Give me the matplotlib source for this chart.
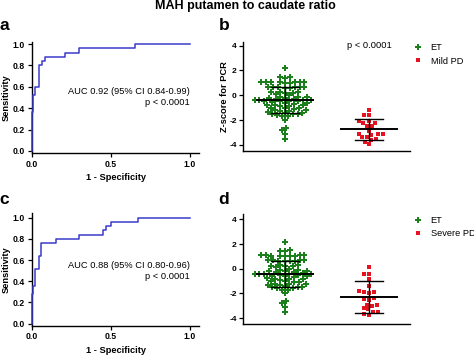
import numpy as np
import matplotlib
matplotlib.use("Agg")
import matplotlib.pyplot as plt
from matplotlib.lines import Line2D

plt.rcParams['font.family'] = ['Liberation Sans', 'DejaVu Sans']

# ---------------- data ----------------
title = "MAH putamen to caudate ratio"

# ROC curve vertices (1 - specificity, sensitivity)
roc_a_fpr = [0, 0, 0.008, 0.008, 0.02, 0.02, 0.045, 0.045, 0.065, 0.065, 0.085, 0.085,
             0.21, 0.21, 0.30, 0.30, 0.65, 0.65, 1.0]
roc_a_tpr = [0, 0.36, 0.36, 0.52, 0.52, 0.60, 0.60, 0.80, 0.80, 0.84, 0.84, 0.88,
             0.88, 0.92, 0.92, 0.96, 0.96, 1.0, 1.0]
roc_c_fpr = [0, 0, 0.008, 0.008, 0.02, 0.02, 0.045, 0.045, 0.055, 0.055, 0.15, 0.15,
             0.30, 0.30, 0.45, 0.45, 0.47, 0.47, 0.50, 0.50, 0.67, 0.67, 1.0]
roc_c_tpr = [0, 0.28, 0.28, 0.36, 0.36, 0.52, 0.52, 0.64, 0.64, 0.76, 0.76, 0.80,
             0.80, 0.84, 0.84, 0.88, 0.88, 0.92, 0.92, 0.96, 0.96, 1.0, 1.0]
auc_a_text = ["AUC 0.92 (95% CI 0.84-0.99)", "p < 0.0001"]
auc_c_text = ["AUC 0.88 (95% CI 0.80-0.96)", "p < 0.0001"]

groups_b = ["ET", "Mild PD"]
groups_d = ["ET", "Severe PD"]

et_z = [2.2, 1.5, 1.45, 1.4, 1.1, 1.1, 1.05, 1.05, 1.0, 1.1, 1.0, 1.05, 1.1,
        0.7, 0.7, 0.65, 0.6, 0.7, 0.6, 0.65, 0.7, 0.3, 0.25, 0.2, 0.3, 0.2,
        0.1, 0.0, -0.1, -0.1, -0.2, -0.15, -0.2, -0.3, -0.3, -0.35, -0.4, -0.4,
        -0.45, -0.5, -0.5, -0.4, -0.45, -0.55, -0.6, -0.6, -0.7, -0.75, -0.8,
        -0.8, -0.85, -0.9, -1.0, -1.0, -1.05, -1.1, -1.2, -1.2, -1.25, -1.3,
        -1.35, -1.4, -1.45, -1.5, -1.5, -1.55, -1.6, -1.7, -1.7, -2.0, -2.6,
        -2.8, -3.1, -3.5]
mild_pd_z = [-1.2, -1.6, -1.6, -2.05, -2.1, -2.2, -2.2, -2.5, -2.5, -2.85, -3.1,
             -3.1, -3.15, -3.2, -3.4, -3.4, -3.5, -3.6, -3.75, -3.95]
severe_pd_z = [0.1, -0.4, -0.45, -0.85, -1.4, -1.8, -1.85, -1.9, -1.95, -2.4, -2.45,
               -2.5, -2.9, -2.95, -3.0, -3.2, -3.3, -3.5, -3.5, -3.7, -3.75]

# summary statistics (mean, SD)
et_mean, et_sd = -0.4, 1.05
mild_mean, mild_sd = -2.75, 0.82
severe_mean, severe_sd = -2.3, 1.3
p_text_b = "p < 0.0001"

# ---------------- styling ----------------
W, H = 474, 357
BLUE = "#3a3acb"
GREEN = "#1b801b"
RED = "#e5121f"

fig = plt.figure(figsize=(W / 100, H / 100), dpi=100)


def axpx(l, t, r, b):
    return fig.add_axes([l / W, 1 - b / H, (r - l) / W, (b - t) / H])


def style(ax, labelsize=6.2, pad=2):
    for s in ["top", "right"]:
        ax.spines[s].set_visible(False)
    for s in ["left", "bottom"]:
        ax.spines[s].set_linewidth(1.0)
    ax.tick_params(direction="out", length=3, width=0.9, labelsize=labelsize, pad=pad)
    for lab in ax.get_xticklabels() + ax.get_yticklabels():
        lab.set_fontweight("bold")


def roc_panel(ax, fpr, tpr, ylim):
    ax.plot(fpr, tpr, color=BLUE, lw=1.1, clip_on=False, zorder=5)
    ax.set_xlim(0, 1.057)
    ax.set_ylim(*ylim)
    ax.set_xticks([0, 0.5, 1.0])
    ax.set_xticklabels(["0.0", "0.5", "1.0"])
    ax.set_yticks([0, 0.2, 0.4, 0.6, 0.8, 1.0])
    ax.set_yticklabels(["0.0", "0.2", "0.4", "0.6", "0.8", "1.0"])
    style(ax)
    ax.set_xlabel("1 - Specificity", fontsize=6.7, fontweight="bold")
    ax.set_ylabel("Sensitivity", fontsize=6.7, fontweight="bold")
    ax.xaxis.label.set_va("center")
    ax.yaxis.label.set_va("center")
    ax.xaxis.set_label_coords(0.5, -0.225)
    ax.yaxis.set_label_coords(-0.155, 0.5)
    return ax


def swarm_offsets(vals, ypx_per_unit, diam):
    vals = np.asarray(vals, dtype=float)
    order = np.argsort(vals)
    placed = []
    offs = np.zeros(len(vals))
    for i in order:
        y = vals[i] * ypx_per_unit
        cands = [0.0]
        for (px, py) in placed:
            dy = abs(py - y)
            if dy < diam:
                dx = np.sqrt(diam ** 2 - dy ** 2)
                cands += [px + dx, px - dx]
        cands = sorted(cands, key=lambda c: (abs(c), c))
        for c in cands:
            ok = True
            for (px, py) in placed:
                if (px - c) ** 2 + (py - y) ** 2 < diam ** 2 - 1e-6:
                    ok = False
                    break
            if ok:
                offs[i] = c
                placed.append((c, y))
                break
    return offs


def scatter_panel(ax, data_list, colors, markers, msizes, stats, ylim, px_x, px_y):
    ax.set_xlim(0.5, 2.49)
    ax.set_ylim(*ylim)
    for k, (vals, col, mk, ms, (m, sd)) in enumerate(zip(data_list, colors, markers, msizes, stats)):
        pos = k + 1
        offs = swarm_offsets(vals, px_y, 4.9) / px_x
        ax.plot(pos + offs, vals, linestyle="none", marker=mk, color=col,
                markersize=ms, markeredgewidth=0, zorder=3)
        ax.plot([pos - 0.33, pos + 0.33], [m, m], color="black", lw=1.4, zorder=4)
        ax.plot([pos, pos], [m - sd, m + sd], color="black", lw=1.0, zorder=4)
        for yy in (m - sd, m + sd):
            ax.plot([pos - 0.167, pos + 0.167], [yy, yy], color="black", lw=1.0, zorder=4)
    ax.set_yticks([-4, -2, 0, 2, 4])
    ax.set_yticklabels(["-4", "-2", "0", "2", "4"])
    ax.set_xticks([])
    style(ax, labelsize=6.0, pad=1.5)


# Panel a
ax_a = axpx(32, 42, 199, 153)
roc_panel(ax_a, roc_a_fpr, roc_a_tpr, (-0.019, 1.019))
ax_a.text(1.0, 0.56, auc_a_text[0], ha="right", va="center", fontsize=6.7)
ax_a.text(1.0, 0.457, auc_a_text[1], ha="right", va="center", fontsize=6.7)

# Panel c
ax_c = axpx(32, 213, 199, 325.5)
roc_panel(ax_c, roc_c_fpr, roc_c_tpr, (-0.017, 1.044))
ax_c.text(1.0, 0.55, auc_c_text[0], ha="right", va="center", fontsize=6.7)
ax_c.text(1.0, 0.447, auc_c_text[1], ha="right", va="center", fontsize=6.7)

# Panel b
ax_b = axpx(243, 41.7, 410, 150.7)
scatter_panel(ax_b, [et_z, mild_pd_z], [GREEN, RED], ["P", "s"], [4.0, 3.4],
              [(et_mean, et_sd), (mild_mean, mild_sd)], (-4.47, 4.32), 84, 12.4)
ax_b.set_ylabel("Z-score for PCR", fontsize=6.7, fontweight="bold")
ax_b.yaxis.label.set_va("center")
ax_b.yaxis.set_label_coords(-0.108, 0.5)
ax_b.text(2.0, 4.0, p_text_b, ha="center", va="center", fontsize=6.7)

# Panel d
ax_d = axpx(243, 214, 410, 323.7)
scatter_panel(ax_d, [et_z, severe_pd_z], [GREEN, RED], ["P", "s"], [4.0, 3.4],
              [(et_mean, et_sd), (severe_mean, severe_sd)], (-4.45, 4.43), 84, 12.35)


def legend(labels, top_px):
    handles = [Line2D([], [], linestyle="none", marker="P", color=GREEN, markersize=4.0,
                      markeredgewidth=0),
               Line2D([], [], linestyle="none", marker="s", color=RED, markersize=3.4,
                      markeredgewidth=0)]
    fig.legend(handles, labels, loc="upper left",
               bbox_to_anchor=(413 / W, 1 - top_px / H), frameon=False,
               fontsize=6.7, handlelength=1.0, handletextpad=0.9,
               labelspacing=0.45, borderaxespad=0, borderpad=0)


legend(groups_b, 43.5)
legend(groups_d, 216)

# Title and panel letters
fig.text(245.5 / W, 1 - 6 / H, title, ha="center", va="center", fontsize=9, fontweight="bold")
for letter, x, y in [("a", 4, 25), ("b", 224, 25), ("c", 4, 199), ("d", 224, 199)]:
    fig.text(x / W, 1 - y / H, letter, ha="center", va="center", fontsize=12.5, fontweight="bold")

fig.savefig("out.png", dpi=100)
